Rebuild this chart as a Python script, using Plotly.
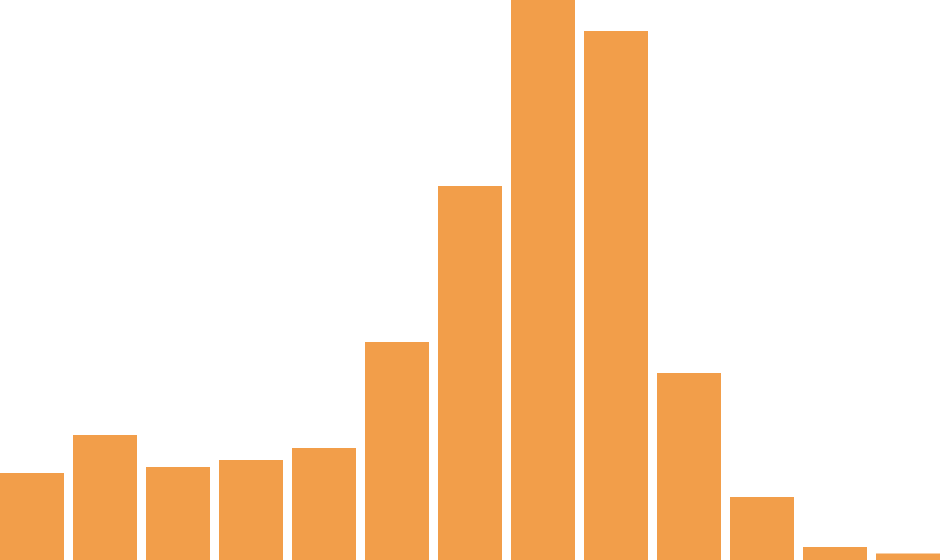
import plotly.graph_objects as go

# bin labels and bar heights
bins = list(range(13))
counts = [87, 125, 93, 100, 112, 218, 374, 560, 529, 187, 63, 13, 6.5]

gap = 9 / 73
fig = go.Figure(go.Bar(x=bins, y=counts, marker_color='#F29E4A',
                       marker_line_width=0))
fig.update_layout(width=940, height=560, bargap=gap,
                  margin=dict(l=0, r=0, t=0, b=0),
                  paper_bgcolor='white', plot_bgcolor='white',
                  showlegend=False)
fig.update_xaxes(visible=False, range=[-0.5 + gap / 2, 12.5 - gap / 2])
fig.update_yaxes(visible=False, range=[0, 560])
# the page's default body margin would shift the plot by 8px
fig.write_html("out.html", config={'displayModeBar': False},
               post_script="document.body.style.margin='0';"
                           "document.body.style.overflow='hidden';")
